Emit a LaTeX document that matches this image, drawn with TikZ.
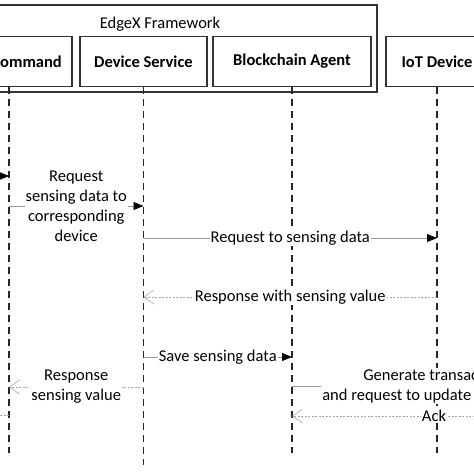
\documentclass[tikz,border=0pt]{standalone}
\usepackage{fontspec}
\setmainfont{Carlito}
\usetikzlibrary{arrows.meta}
\begin{document}
\begin{tikzpicture}[x=1pt,y=-1pt,
  actor/.style={draw=black!80, line width=1.1pt, minimum height=50pt, inner sep=0pt,
    font=\bfseries\fontsize{16.5}{20}\selectfont},
  frame/.style={draw=black!80, line width=1.1pt},
  life/.style={draw=black!85, line width=1.4pt, dash pattern=on 7pt off 5pt},
  msg/.style={draw=black!40, line width=0.8pt, -{Triangle[length=10pt,width=8pt,black]}},
  ret/.style={draw=black!35, line width=0.8pt, dash pattern=on 2pt off 1.5pt,
    -{Straight Barb[length=10pt,width=14pt,line width=0.6pt]}},
  lbl/.style={fill=white, inner sep=1pt, align=center, font=\fontsize{16.5}{20}\selectfont}]
\path[use as bounding box] (0,0) rectangle (474,474);
\clip (0,0) rectangle (474,474);
\fill[white] (0,0) rectangle (474,474);
% framework frame
\draw[frame] (-70,5) rectangle (377,92);
\node[font=\fontsize{16.5}{20}\selectfont] (fw) at (160,24) {EdgeX Framework};
% actors
\node[actor, minimum width=126pt] (cmd) at (9,61.5) {Core Command};
\node[actor, minimum width=127pt] (ds) at (143.5,61.5) {Device Service};
\node[actor, minimum width=158pt] (ba) at (292,61.5) {Blockchain Agent};
\node[actor, minimum width=102pt] (iot) at (437,61.5) {IoT Device};
\coordinate (left) at (-126,86);
\coordinate (far) at (576,86);
% lifelines
\draw[life] (cmd.south) -- (cmd.south |- 0,453);
\draw[life] (ds.south) -- (ds.south |- 0,465);
\draw[life] (ba.south) -- (ba.south |- 0,453);
\draw[life] (iot.south) -- (iot.south |- 0,453);
% messages
\draw[msg] (left |- 0,176) -- (cmd.south |- 0,176);
\draw[msg] (cmd.south |- 0,206) -- node[lbl] {Request\\sensing data to\\corresponding\\device} (ds.south |- 0,206);
\draw[msg] (ds.south |- 0,238) -- node[lbl] {Request to sensing data} (iot.south |- 0,238);
\draw[ret] (iot.south |- 0,297) -- node[lbl] {Response with sensing value} (ds.south |- 0,297);
\draw[msg] (ds.south |- 0,357) -- node[lbl] {Save sensing data} (ba.south |- 0,357);
\draw[ret] (ds.south |- 0,387) -- node[lbl] {Response\\sensing value} (cmd.south |- 0,387);
\draw[ret] (cmd.south |- 0,415) -- (left |- 0,415);
\draw[msg] (ba.south |- 0,386) -- node[lbl] {Generate transaction\\and request to update reputation} (far |- 0,386);
\draw[ret] (far |- 0,416) -- node[lbl] {Ack} (ba.south |- 0,416);
\end{tikzpicture}
\end{document}
